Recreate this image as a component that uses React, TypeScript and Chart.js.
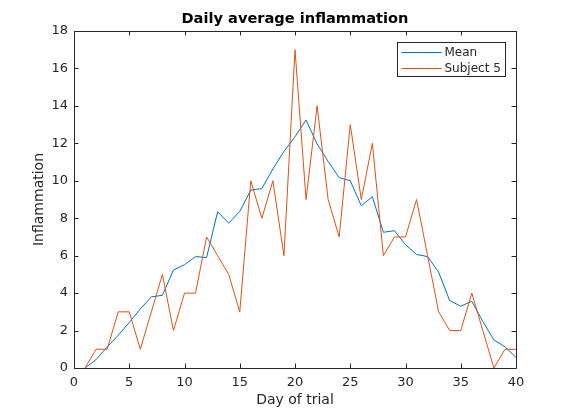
import React, { useEffect, useRef } from "react";
import Chart from "chart.js/auto";

const days: number[] = Array.from({ length: 40 }, (_, i) => i + 1);
const meanValues: number[] = [
  0, 0.45, 1.11667, 1.75, 2.43333, 3.15, 3.8, 3.88333, 5.23333, 5.51667,
  5.95, 5.9, 8.35, 7.73333, 8.36667, 9.5, 9.58333, 10.63333, 11.56667, 12.35,
  13.25, 11.96667, 11.03333, 10.16667, 10.0, 8.66667, 9.15, 7.25, 7.33333, 6.58333,
  6.06667, 5.95, 5.11667, 3.6, 3.3, 3.56667, 2.48333, 1.5, 1.13333, 0.56667,
];
const subject5Values: number[] = [
  0, 1, 1, 3, 3, 1, 3, 5, 2, 4,
  4, 7, 6, 5, 3, 10, 8, 10, 6, 17,
  9, 14, 9, 7, 13, 9, 12, 6, 7, 7,
  9, 6, 3, 2, 2, 4, 2, 0, 1, 1,
];
const seriesLabels: string[] = ["Mean", "Subject 5"];
const seriesColors: string[] = ["#0072BD", "#D95319"];
const titleText = "Daily average inflammation";
const xTitle = "Day of trial";
const yTitle = "Inflammation";
const xTicks: number[] = [0, 5, 10, 15, 20, 25, 30, 35, 40];
const yTicks: number[] = [0, 2, 4, 6, 8, 10, 12, 14, 16, 18];

const FONT = "'DejaVu Sans', sans-serif";
const AXIS = "#262626";

const decorPlugin = {
  id: "decor",
  afterDraw(chart: any) {
    const { ctx, chartArea } = chart;
    const { left, right, top, bottom } = chartArea;
    const xs = chart.scales.x;
    const ys = chart.scales.y;
    ctx.save();
    ctx.strokeStyle = AXIS;
    ctx.lineWidth = 1;
    ctx.beginPath();
    ctx.rect(Math.round(left) + 0.5, Math.round(top) + 0.5, Math.round(right - left), Math.round(bottom - top));
    ctx.stroke();
    const tl = 4.5;
    ctx.beginPath();
    xTicks.forEach((v) => {
      const px = Math.round(xs.getPixelForValue(v)) + 0.5;
      ctx.moveTo(px, bottom);
      ctx.lineTo(px, bottom - tl);
      ctx.moveTo(px, top);
      ctx.lineTo(px, top + tl);
    });
    yTicks.forEach((v) => {
      const py = Math.round(ys.getPixelForValue(v)) + 0.5;
      ctx.moveTo(left, py);
      ctx.lineTo(left + tl, py);
      ctx.moveTo(right, py);
      ctx.lineTo(right - tl, py);
    });
    ctx.stroke();

    // title
    ctx.fillStyle = "#000";
    ctx.font = `bold 14.6px ${FONT}`;
    ctx.textAlign = "center";
    ctx.textBaseline = "middle";
    ctx.fillText(titleText, (left + right) / 2, 19);

    // legend
    const bx = 397.5, by = 42.5, bw = 108, bh = 34;
    ctx.fillStyle = "#fff";
    ctx.fillRect(bx, by, bw, bh);
    ctx.strokeStyle = AXIS;
    ctx.strokeRect(bx, by, bw, bh);
    ctx.font = `12px ${FONT}`;
    ctx.textAlign = "left";
    chart.data.datasets.forEach((ds: any, i: number) => {
      const cy = by + 9.5 + i * 16;
      ctx.strokeStyle = ds.borderColor;
      ctx.beginPath();
      ctx.moveTo(bx + 4, Math.round(cy) + 0.5);
      ctx.lineTo(bx + 44, Math.round(cy) + 0.5);
      ctx.stroke();
      ctx.fillStyle = AXIS;
      ctx.fillText(ds.label, bx + 47, cy + 0.5);
    });
    ctx.restore();
  },
};

export default function App() {
  const ref = useRef<HTMLCanvasElement>(null);
  useEffect(() => {
    document.body.style.margin = "0";
    const chart = new Chart(ref.current!, {
      type: "line",
      data: {
        datasets: [
          {
            label: seriesLabels[0],
            data: days.map((d, i) => ({ x: d, y: meanValues[i] })),
            borderColor: seriesColors[0],
            backgroundColor: seriesColors[0],
            borderWidth: 1,
            pointRadius: 0,
            tension: 0,
            order: 1,
          },
          {
            label: seriesLabels[1],
            data: days.map((d, i) => ({ x: d, y: subject5Values[i] })),
            borderColor: seriesColors[1],
            backgroundColor: seriesColors[1],
            borderWidth: 1,
            pointRadius: 0,
            tension: 0,
            order: 0,
          },
        ],
      },
      options: {
        animation: false,
        responsive: false,
        layout: { padding: { top: 31, right: 54, left: 0, bottom: 0 } },
        plugins: {
          legend: { display: false },
          title: { display: false },
          tooltip: { enabled: false },
        },
        scales: {
          x: {
            type: "linear",
            min: 0,
            max: 40,
            afterFit: (s: any) => { s.height = 45; },
            afterBuildTicks: (s: any) => { s.ticks = xTicks.map((v) => ({ value: v })); },
            grid: { display: false, drawTicks: false },
            border: { display: false },
            ticks: { color: AXIS, font: { family: FONT, size: 13 }, padding: 7, maxRotation: 0 },
            title: { display: true, text: xTitle, color: AXIS, font: { family: FONT, size: 14 }, padding: { top: 0, bottom: 4 } },
          },
          y: {
            type: "linear",
            min: 0,
            max: 18,
            afterFit: (s: any) => { s.width = 74; },
            afterBuildTicks: (s: any) => { s.ticks = yTicks.map((v) => ({ value: v })); },
            grid: { display: false, drawTicks: false },
            border: { display: false },
            ticks: { color: AXIS, font: { family: FONT, size: 13 }, padding: 6 },
            title: { display: true, text: yTitle, color: AXIS, font: { family: FONT, size: 14 }, padding: { top: 31, bottom: 0 } },
          },
        },
      },
      plugins: [decorPlugin],
    });
    return () => chart.destroy();
  }, []);
  return <canvas ref={ref} width={570} height={413} style={{ display: "block", width: 570, height: 413 }} />;
}
